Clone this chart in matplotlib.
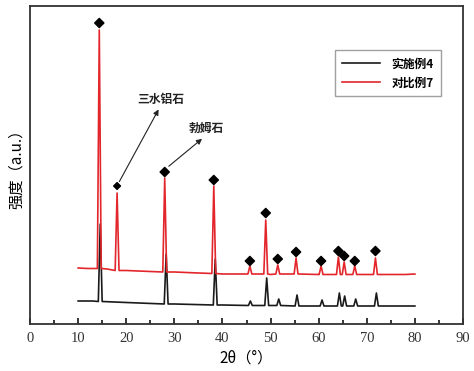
import matplotlib
matplotlib.use("Agg")
import matplotlib.pyplot as plt
import numpy as np

plt.rcParams['font.family'] = ['Noto Sans CJK SC', 'DejaVu Sans']

# ---------- data (intensity in arbitrary units) ----------
# 对比例7 (red): baseline knots + peaks
red_base_x = [10, 12, 16, 20, 25, 30, 35, 40, 45, 50, 60, 70, 78, 80]
red_base_y = [56, 55.5, 55, 53.5, 52.5, 52, 51, 50, 50, 49.5, 49.5, 49.5, 49.5, 50]
red_peak_x = [14.4, 18.1, 28.0, 38.2, 45.7, 49.0, 51.5, 55.3, 60.5, 64.1, 65.3, 67.5, 71.8]
red_peak_top = [294, 131, 146, 138, 58, 104, 59, 66, 58, 67, 62, 58, 66]
red_peak_foot = [55.5, 53.5, 52, 50.5, 50, 50, 50, 50, 49.5, 49.5, 49.5, 49.5, 49.5]

# 实施例4 (black)
black_base_x = [10, 13, 20, 30, 40, 50, 60, 70, 80]
black_base_y = [23, 23, 21.5, 20, 19, 18.5, 18, 18, 18]
black_peak_x = [14.6, 28.3, 38.5, 45.8, 49.2, 51.7, 55.5, 60.7, 64.3, 65.4, 67.7, 72.0]
black_peak_top = [100, 70, 65, 23, 46, 25, 29, 24, 31, 28, 25, 31]
black_peak_foot = [22.5, 20, 19, 18.5, 18.5, 18.5, 18, 18, 18, 18, 18, 18]

# diamond markers above the red peaks
mark_x = red_peak_x
mark_y = [301, 138, 152, 144, 63, 111, 65, 72, 63, 73, 68, 63, 73]

labels = ["实施例4", "对比例7"]


def build_curve(bx, by, px, ptop, pfoot, hw=0.4):
    xs = list(bx)
    ys = list(by)
    for x, t, f in zip(px, ptop, pfoot):
        xs += [x - hw, x, x + hw]
        ys += [f, t, f]
    order = np.argsort(xs, kind="stable")
    return np.array(xs)[order], np.array(ys)[order]


fig = plt.figure(figsize=(4.74, 3.71), dpi=100)
ax = fig.add_axes([0.0633, 0.1267, 0.9135, 0.8571])

bx, by = build_curve(black_base_x, black_base_y, black_peak_x, black_peak_top, black_peak_foot)
rx, ry = build_curve(red_base_x, red_base_y, red_peak_x, red_peak_top, red_peak_foot)
ax.plot(bx, by, color="#1a1a1a", lw=1.2, label=labels[0])
ax.plot(rx, ry, color="#e3262b", lw=1.2, label=labels[1])

sizes = [22] * len(mark_x)
sizes[1] = 12  # the 三水铝石 marker is drawn smaller
ax.scatter(mark_x, mark_y, marker="D", s=sizes, color="black", zorder=5)

ax.annotate("", xy=(27.0, 217), xytext=(18.3, 140),
            arrowprops=dict(arrowstyle="-|>", color="#222222", lw=0.8, mutation_scale=8))
ax.text(27.2, 225, "三水铝石", ha="center", va="center", fontsize=8.5, fontweight="bold",
        color="#222222")
ax.annotate("", xy=(36.2, 187), xytext=(28.4, 156),
            arrowprops=dict(arrowstyle="-|>", color="#222222", lw=0.8, mutation_scale=8))
ax.text(36.6, 196, "勃姆石", ha="center", va="center", fontsize=8.5, fontweight="bold",
        color="#222222")

ax.set_xlim(0, 90)
ax.set_ylim(0, 318)
ax.set_xticks(np.arange(0, 91, 10))
ax.set_xticks(np.arange(5, 90, 10), minor=True)
ax.set_yticks([])
ax.tick_params(axis="x", direction="in", length=4, width=1.1, labelsize=10.5, pad=6,
               labelcolor="#333333")
ax.tick_params(axis="x", which="minor", direction="in", length=3, width=1.1)
for lab in ax.get_xticklabels():
    lab.set_fontfamily("Liberation Serif")
for s in ax.spines.values():
    s.set_color("#333333")
    s.set_linewidth(1.3)

ax.set_xlabel("2θ（°）", fontsize=11, labelpad=3)
ax.set_ylabel("强度（a.u.）", fontsize=11, labelpad=4)

leg = ax.legend(loc="upper right", bbox_to_anchor=(0.963, 0.879), fontsize=8.5,
                fancybox=False, edgecolor="#888888", handlelength=3.2,
                borderpad=0.6, labelspacing=0.5, handletextpad=1.0)
leg.get_frame().set_linewidth(1.0)
for t in leg.get_texts():
    t.set_fontweight("bold")

fig.savefig("out.png", dpi=100)
